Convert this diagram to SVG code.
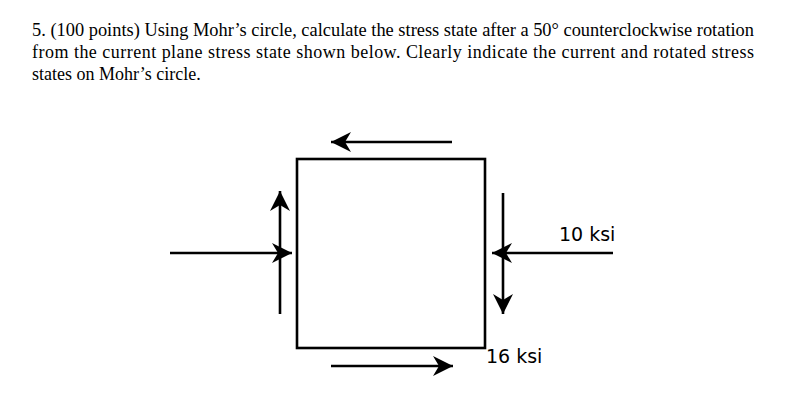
<svg xmlns="http://www.w3.org/2000/svg" width="790" height="414" viewBox="0 0 790 414">
<style>
.t{font-family:"Liberation Serif",serif;font-size:18px;fill:#000}
.l{font-family:"DejaVu Sans",sans-serif;font-size:19px;fill:#000}
.a{stroke:#000;stroke-width:2.6;fill:none;marker-end:url(#h)}
</style>
<defs><marker id="h" markerUnits="userSpaceOnUse" markerWidth="22" markerHeight="22" refX="20" refY="10" orient="auto"><path d="M0,0 L20,10 L0,20 L6,10 Z" fill="#000"/></marker></defs>
<rect width="790" height="414" fill="#fff"/>
<g id="question">
<text class="t" x="32" y="36" textLength="722" lengthAdjust="spacingAndGlyphs">5. (100 points) Using Mohr’s circle, calculate the stress state after a 50° counterclockwise rotation</text>
<text class="t" x="32" y="58" textLength="722" lengthAdjust="spacing">from the current plane stress state shown below. Clearly indicate the current and rotated stress</text>
<text class="t" x="32" y="80">states on Mohr’s circle.</text>
</g>
<g id="element"><rect x="297" y="159" width="188" height="189" fill="none" stroke="#000" stroke-width="2.6"/></g>
<g id="connectors">
<line class="a" x1="452" y1="142" x2="331" y2="142"/>
<line class="a" x1="331" y1="366" x2="453" y2="366"/>
<line class="a" x1="170" y1="253" x2="292" y2="253"/>
<line class="a" x1="280" y1="314" x2="280" y2="191"/>
<line class="a" x1="503" y1="193" x2="503" y2="314"/>
<line class="a" x1="613" y1="253" x2="492" y2="253"/>
</g>
<g id="labels">
<text class="l" x="559" y="241">10 ksi</text>
<text class="l" x="486" y="363">16 ksi</text>
</g>
</svg>
